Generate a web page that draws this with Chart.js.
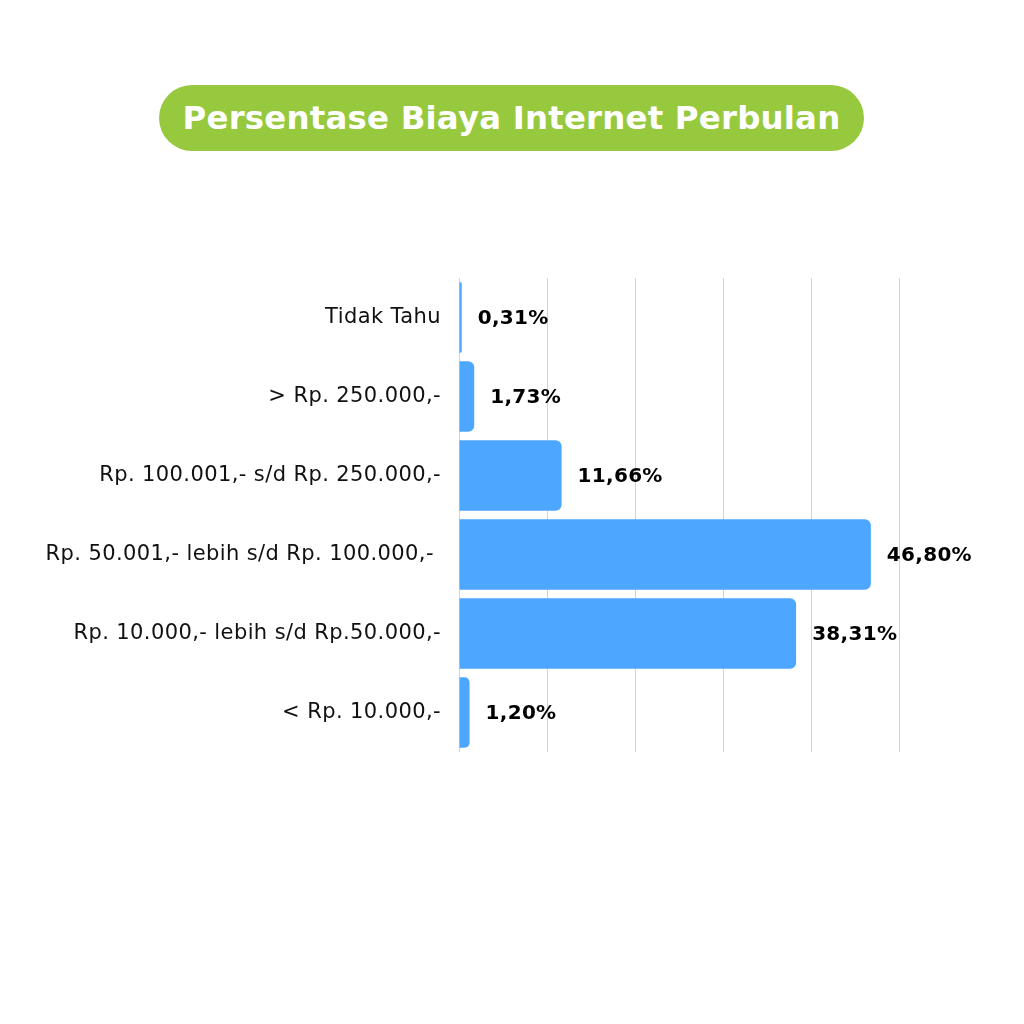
<!DOCTYPE html>
<html>
<head>
<meta charset="utf-8">
<script src="https://cdn.jsdelivr.net/npm/chart.js@4"></script>
<style>
  html, body { margin: 0; padding: 0; background: #fff; }
  #wrap { position: relative; width: 1024px; height: 1024px; }
  #judul {
    position: absolute; left: 159px; top: 85px; width: 705px; height: 66px;
    border-radius: 33px; background: #97c93f; color: #fff;
    font: 700 32.4px "DejaVu Sans", sans-serif; letter-spacing: 0.2px;
    display: flex; align-items: center; justify-content: center;
  }
  #grafik { position: absolute; left: 0; top: 0; }
</style>
</head>
<body>
<div id="wrap">
  <canvas id="grafik" width="1024" height="1024"></canvas>
  <div id="judul">Persentase Biaya Internet Perbulan</div>
</div>
<script>
const kategori = [
  "Tidak Tahu",
  "> Rp. 250.000,-",
  "Rp. 100.001,- s/d Rp. 250.000,-",
  "Rp. 50.001,- lebih s/d Rp. 100.000,- ",
  "Rp. 10.000,- lebih s/d Rp.50.000,-",
  "< Rp. 10.000,-"
];
const persen = [0.31, 1.73, 11.66, 46.80, 38.31, 1.20];
const labelPersen = ["0,31%", "1,73%", "11,66%", "46,80%", "38,31%", "1,20%"];

// spasi huruf sedikit lebih lebar untuk label sumbu
const spasiHuruf = {
  id: "spasiHuruf",
  beforeDraw(chart) { chart.ctx.letterSpacing = "0.4px"; },
  beforeDatasetsDraw(chart) { chart.ctx.letterSpacing = "0px"; }
};

// tulis angka di ujung batang
const labelNilai = {
  id: "labelNilai",
  afterDatasetsDraw(chart) {
    const ctx = chart.ctx;
    const meta = chart.getDatasetMeta(0);
    ctx.save();
    ctx.letterSpacing = "0.3px";
    ctx.font = "700 20px 'DejaVu Sans', sans-serif";
    ctx.fillStyle = "#000";
    ctx.textAlign = "left";
    ctx.textBaseline = "middle";
    meta.data.forEach((bar, i) => {
      ctx.fillText(labelPersen[i], bar.x + 16, bar.y + 1);
    });
    ctx.restore();
  }
};

new Chart(document.getElementById("grafik"), {
  type: "bar",
  data: {
    labels: kategori,
    datasets: [{
      data: persen,
      backgroundColor: "#4da6ff",
      borderRadius: { topRight: 6, bottomRight: 6 },
      borderSkipped: false,
      categoryPercentage: 0.89,
      barPercentage: 1
    }]
  },
  options: {
    indexAxis: "y",
    responsive: false,
    animation: false,
    layout: { padding: { top: 278, bottom: 272, right: 125, left: 0 } },
    plugins: { legend: { display: false }, tooltip: { enabled: false } },
    scales: {
      x: {
        min: 0, max: 50,
        ticks: { stepSize: 10, display: false },
        border: { display: false },
        grid: { color: "#d4d4d4", lineWidth: 1, drawTicks: false }
      },
      y: {
        border: { display: false },
        grid: { display: false },
        ticks: {
          color: "#111",
          padding: 10,
          font: { family: "'DejaVu Sans', sans-serif", size: 21 }
        },
        afterFit(s) { s.width = 459; }
      }
    }
  },
  plugins: [spasiHuruf, labelNilai]
});
</script>
</body>
</html>
